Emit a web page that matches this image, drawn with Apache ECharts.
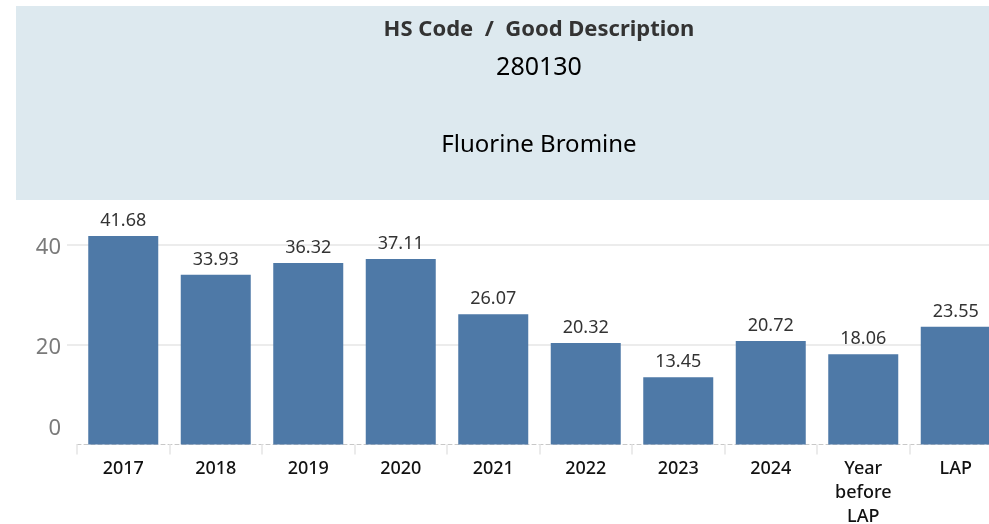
<!DOCTYPE html>
<html>
<head>
<meta charset="utf-8">
<script src="https://cdn.jsdelivr.net/npm/echarts@6/dist/echarts.min.js"></script>
<style>
html,body{margin:0;padding:0;background:#fff;overflow:hidden;}
#c{width:1002px;height:524px;}
</style>
</head>
<body>
<div id="c"></div>
<script>
const categories = ['2017','2018','2019','2020','2021','2022','2023','2024','Year\nbefore\nLAP','LAP'];
const values = [41.68, 33.93, 36.32, 37.11, 26.07, 20.32, 13.45, 20.72, 18.06, 23.55];
const yTicks = [0, 20, 40];
const headerTitle = 'HS Code  /  Good Description';
const hsCode = '280130';
const goodDescription = 'Fluorine Bromine';

const chart = echarts.init(document.getElementById('c'), null, {renderer: 'canvas'});
chart.setOption({
  animation: false,
  backgroundColor: '#ffffff',
  grid: [
    {left: 67, width: 935, top: 144.5, height: 300, containLabel: false, outerBoundsMode: 'none'},
    {left: 77, width: 925, top: 144.5, height: 300, containLabel: false, outerBoundsMode: 'none'}
  ],
  xAxis: [
    {type: 'value', gridIndex: 0, show: false, min: 0, max: 1},
    {
      type: 'category', gridIndex: 1,
      data: categories,
      axisLine: {show: true, lineStyle: {color: '#c8c8c8', type: [4, 3], width: 1}},
      axisTick: {show: true, length: 10, lineStyle: {color: '#ebebeb', width: 2}},
      axisLabel: {color: '#111', fontFamily: 'Noto Sans', fontWeight: 500, fontSize: 18, margin: 12, lineHeight: 24, interval: 0}
    }
  ],
  yAxis: [
    {
      type: 'value', gridIndex: 0,
      min: 0, max: 60, interval: 20,
      axisLine: {show: false},
      axisTick: {show: false},
      splitLine: {show: true, lineStyle: {color: ['rgba(0,0,0,0)', '#ececec', '#ececec', '#ececec'], width: 2}},
      axisLabel: {
        color: '#7a7a7a', fontFamily: 'Noto Sans', fontSize: 22, margin: 6,
        formatter: function (v) { return yTicks.indexOf(v) >= 0 ? (v === 0 ? '{z|0}' : '{n|' + v + '}') : ''; },
        rich: {
          z: {color: '#7a7a7a', fontFamily: 'Noto Sans', fontSize: 22, padding: [0, 0, 31, 0]},
          n: {color: '#7a7a7a', fontFamily: 'Noto Sans', fontSize: 22, padding: [6, 0, 0, 0]}
        }
      }
    },
    {type: 'value', gridIndex: 1, min: 0, max: 60, interval: 20, show: false, splitLine: {show: false}}
  ],
  series: [{
    type: 'bar',
    xAxisIndex: 1, yAxisIndex: 1,
    data: values,
    barWidth: 70,
    itemStyle: {color: '#4e79a7'},
    label: {show: true, position: 'top', distance: 6, color: '#333', fontFamily: 'Noto Sans', fontSize: 18,
      formatter: function (p) { return p.value.toFixed(2); }}
  }],
  graphic: {
    elements: [
      {type: 'rect', z: 100, shape: {x: 16, y: 6, width: 986, height: 194}, style: {fill: '#dde9ef'}},
      {type: 'text', z: 101, x: 539, y: 30, style: {text: headerTitle, fill: '#333', font: 'bold 22px "Noto Sans"', textAlign: 'center', textVerticalAlign: 'middle'}},
      {type: 'text', z: 101, x: 539, y: 68, style: {text: hsCode, fill: '#000', font: '25px "Noto Sans"', textAlign: 'center', textVerticalAlign: 'middle'}},
      {type: 'text', z: 101, x: 539, y: 145, style: {text: goodDescription, fill: '#000', font: '24px "Noto Sans"', textAlign: 'center', textVerticalAlign: 'middle'}}
    ]
  }
});
</script>
</body>
</html>
